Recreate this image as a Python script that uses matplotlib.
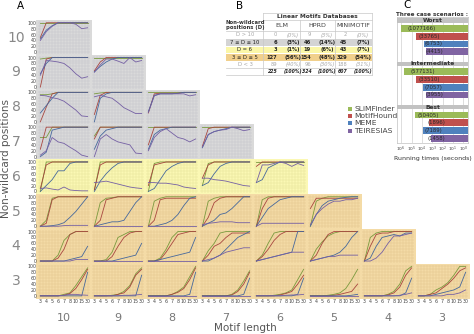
import numpy as np
import matplotlib
matplotlib.use("Agg")
import matplotlib.pyplot as plt
from matplotlib.patches import Rectangle
from matplotlib.ticker import NullLocator, MultipleLocator

W, H = 474, 334

methods = ["SLiMFinder", "MotifHound", "MEME", "TEIRESIAS"]
method_colors = ["#9bbb59", "#c0504d", "#4f81bd", "#8064a2"]
line_colors = ["#7a9a3e", "#a8463f", "#46689c", "#7560a4"]

# panel A: x categories inside every small plot, rows = D, columns = motif length
x_labels = ["3", "4", "5", "6", "7", "8", "10", "15", "30"]
d_values = [10, 9, 8, 7, 6, 5, 4, 3]
motif_lengths = [10, 9, 8, 7, 6, 5, 4, 3]

# one list per row and method, one inner list per column (motif length 10, 9, ...)
d10_slim = [[100, 100, 100, 100, 100, 100, 100, 100, 100]]
d10_motif = [[50, 100, 100, 100, 100, 100, 100, 100, 100]]
d10_meme = [[45, 75, 90, 100, 100, 100, 100, 100, 100]]
d10_teir = [[40, 70, 88, 100, 100, 100, 95, 80, 83]]

d9_slim = [[95, 98, 100, 100, 100, 100, 100, 100, 100],
           [100, 100, 100, 100, 100, 100, 100, 100, 100]]
d9_motif = [[0, 95, 100, 100, 100, 100, 100, 100, 100],
            [55, 85, 100, 100, 100, 100, 100, 100, 100]]
d9_meme = [[45, 80, 100, 100, 100, 100, 100, 100, 100],
           [52, 70, 85, 95, 100, 100, 100, 100, 100]]
d9_teir = [[40, 90, 88, 85, 80, 65, 45, 30, 35],
           [50, 75, 95, 95, 88, 80, 100, 85, 90]]

d8_slim = [[92, 92, 95, 100, 100, 100, 100, 100, 100],
           [95, 98, 100, 100, 100, 100, 100, 100, 100],
           [100, 100, 100, 100, 100, 100, 100, 100, 100]]
d8_motif = [[0, 50, 95, 100, 100, 100, 100, 100, 100],
            [25, 90, 100, 100, 100, 100, 100, 100, 100],
            [30, 95, 97, 97, 97, 97, 100, 100, 100]]
d8_meme = [[30, 55, 80, 100, 100, 100, 100, 100, 100],
           [0, 80, 95, 100, 100, 100, 100, 100, 100],
           [35, 90, 95, 95, 95, 97, 100, 100, 100]]
d8_teir = [[90, 88, 82, 78, 70, 55, 40, 20, 18],
           [85, 90, 85, 80, 65, 48, 38, 28, 28],
           [32, 88, 95, 95, 95, 95, 95, 88, 92]]

d7_slim = [[65, 65, 100, 100, 100, 100, 100, 100, 100],
           [70, 100, 100, 100, 100, 100, 100, 100, 100],
           [100, 100, 100, 100, 100, 100, 100, 100, 100],
           [100, 100, 100, 100, 100, 100, 100, 100, 100]]
d7_motif = [[25, 100, 100, 100, 100, 100, 100, 100, 100],
            [60, 100, 100, 100, 100, 100, 100, 100, 100],
            [40, 100, 100, 100, 100, 100, 100, 100, 100],
            [35, 95, 100, 100, 100, 100, 100, 100, 100]]
d7_meme = [[0, 15, 90, 95, 100, 100, 100, 100, 100],
           [25, 70, 90, 95, 100, 100, 100, 100, 100],
           [25, 75, 90, 95, 100, 100, 100, 100, 100],
           [30, 75, 85, 90, 95, 100, 100, 100, 100]]
d7_teir = [[5, 20, 65, 50, 45, 32, 20, 5, 0],
           [0, 60, 75, 60, 50, 45, 40, 12, 10],
           [20, 65, 85, 95, 80, 65, 60, 50, 60],
           [32, 75, 85, 90, 92, 100, 95, 88, 92]]

d6_slim = [[0, 100, 100, 100, 100, 100, 100, 100, 100],
           [5, 100, 100, 100, 100, 100, 100, 100, 100],
           [0, 95, 100, 100, 100, 100, 100, 100, 100],
           [20, 95, 100, 100, 100, 100, 100, 100, 100],
           [100, 100, 100, 100, 100, 100, 100, 100, 100]]
d6_motif = [[10, 90, 100, 100, 100, 100, 100, 100, 100],
            [5, 90, 100, 100, 100, 100, 100, 100, 100],
            [20, 90, 95, 100, 100, 100, 100, 100, 100],
            [45, 90, 100, 100, 100, 100, 100, 100, 100],
            [85, 100, 100, 100, 100, 100, 100, 100, 100]]
d6_meme = [[0, 20, 40, 70, 70, 95, 100, 100, 100],
           [0, 35, 60, 80, 95, 100, 100, 100, 100],
           [0, 10, 40, 70, 85, 95, 100, 100, 100],
           [20, 30, 60, 85, 95, 100, 100, 100, 100],
           [30, 40, 80, 90, 100, 100, 100, 100, 100]]
d6_teir = [[10, 12, 8, 5, 15, 5, 3, 2, 2],
           [30, 32, 35, 30, 25, 20, 15, 12, 10],
           [30, 30, 28, 28, 25, 22, 15, 12, 10],
           [45, 45, 40, 38, 35, 30, 25, 20, 18],
           [30, 90, 90, 95, 100, 95, 85, 95, 88]]

d5_slim = [[0, 20, 95, 100, 100, 100, 100, 100, 100],
           [0, 80, 95, 97, 100, 100, 100, 100, 100],
           [0, 85, 95, 100, 100, 100, 100, 100, 100],
           [0, 85, 95, 100, 100, 100, 100, 100, 100],
           [0, 90, 100, 100, 100, 100, 100, 100, 100],
           [0, 85, 95, 100, 100, 100, 100, 100, 100]]
d5_motif = [[0, 10, 90, 100, 100, 100, 100, 100, 100],
            [0, 20, 90, 95, 100, 100, 100, 100, 100],
            [0, 20, 90, 95, 95, 95, 95, 95, 95],
            [0, 30, 80, 95, 100, 100, 100, 100, 100],
            [0, 60, 95, 100, 100, 100, 100, 100, 100],
            [60, 95, 95, 95, 95, 95, 95, 95, 95]]
d5_meme = [[0, 0, 2, 5, 12, 30, 50, 75, 100],
           [0, 5, 10, 15, 15, 20, 50, 80, 100],
           [0, 0, 5, 10, 20, 40, 70, 95, 100],
           [0, 10, 20, 40, 45, 60, 80, 100, 100],
           [0, 30, 60, 75, 90, 95, 100, 100, 100],
           [0, 40, 70, 85, 90, 95, 98, 100, 100]]
d5_teir = [[0, 0, 0, 0, 2, 3, 3, 3, 3],
           [0, 0, 0, 0, 0, 0, 0, 0, 0],
           [0, 0, 0, 0, 0, 0, 0, 0, 0],
           [5, 10, 12, 15, 15, 15, 12, 12, 12],
           [0, 10, 10, 10, 10, 10, 10, 10, 10],
           [5, 40, 60, 75, 85, 85, 90, 90, 95]]

d4_slim = [[0, 0, 0, 20, 70, 90, 100, 100, 100],
           [0, 0, 5, 30, 80, 90, 100, 100, 100],
           [0, 0, 10, 40, 80, 100, 100, 100, 100],
           [0, 35, 60, 95, 100, 100, 100, 100, 100],
           [0, 20, 60, 95, 100, 100, 100, 100, 100],
           [0, 40, 65, 85, 95, 100, 100, 100, 100],
           [0, 80, 95, 100, 100, 100, 100, 100, 100]]
d4_motif = [[0, 0, 0, 10, 40, 90, 100, 100, 100],
            [0, 0, 0, 15, 50, 80, 95, 100, 100],
            [0, 0, 5, 30, 60, 90, 95, 100, 100],
            [0, 20, 50, 60, 80, 95, 95, 95, 95],
            [0, 15, 40, 70, 90, 100, 100, 100, 100],
            [0, 20, 60, 90, 100, 100, 100, 100, 100],
            [0, 50, 90, 95, 95, 100, 100, 100, 100]]
d4_meme = [[0, 0, 0, 0, 0, 5, 10, 15, 50],
           [0, 0, 0, 0, 5, 10, 15, 20, 60],
           [0, 0, 5, 10, 15, 20, 25, 30, 80],
           [0, 0, 10, 20, 40, 60, 80, 90, 100],
           [0, 5, 10, 15, 20, 25, 30, 100, 100],
           [0, 5, 10, 15, 20, 30, 50, 80, 100],
           [0, 10, 50, 80, 85, 90, 85, 95, 95]]
d4_teir = [[0, 0, 0, 0, 0, 0, 5, 5, 5],
           [0, 0, 0, 0, 0, 0, 0, 0, 0],
           [0, 0, 0, 0, 0, 0, 0, 0, 0],
           [0, 5, 10, 20, 30, 35, 40, 45, 45],
           [0, 5, 10, 15, 20, 25, 30, 30, 30],
           [0, 5, 10, 15, 15, 20, 20, 20, 20],
           [0, 0, 10, 30, 60, 85, 85, 90, 95]]

d3_slim = [[0, 0, 0, 0, 5, 10, 35, 65, 95],
           [0, 0, 0, 2, 5, 15, 35, 75, 95],
           [0, 0, 0, 0, 5, 15, 30, 65, 100],
           [0, 0, 0, 0, 0, 5, 20, 50, 85],
           [0, 0, 0, 2, 5, 10, 20, 55, 90],
           [0, 0, 0, 2, 5, 10, 25, 55, 90],
           [0, 0, 0, 0, 5, 15, 40, 85, 100],
           [0, 0, 5, 20, 30, 45, 70, 100, 100]]
d3_motif = [[0, 0, 0, 0, 2, 8, 25, 55, 90],
            [0, 0, 0, 0, 5, 10, 30, 70, 90],
            [0, 0, 0, 0, 5, 12, 25, 55, 95],
            [0, 0, 0, 0, 0, 3, 15, 40, 80],
            [0, 0, 0, 0, 3, 8, 15, 40, 70],
            [0, 0, 0, 0, 2, 5, 10, 15, 40],
            [0, 0, 0, 0, 3, 10, 30, 70, 95],
            [0, 0, 5, 10, 25, 40, 60, 85, 95]]
d3_meme = [[0, 0, 0, 0, 0, 0, 0, 0, 80],
           [0, 0, 0, 0, 0, 0, 0, 0, 70],
           [0, 0, 0, 0, 0, 0, 0, 5, 80],
           [0, 0, 0, 0, 0, 0, 0, 5, 60],
           [0, 0, 0, 0, 0, 0, 0, 5, 60],
           [0, 0, 0, 0, 0, 0, 0, 2, 5],
           [0, 0, 0, 0, 0, 0, 0, 10, 60],
           [0, 0, 0, 5, 10, 15, 20, 30, 80]]
d3_teir = [[0, 0, 0, 0, 2, 5, 5, 3, 2],
           [0, 0, 0, 0, 0, 2, 2, 3, 5],
           [0, 0, 0, 0, 0, 0, 0, 0, 0],
           [0, 0, 0, 0, 0, 0, 0, 0, 0],
           [0, 0, 0, 0, 0, 2, 3, 3, 5],
           [0, 0, 0, 0, 0, 0, 0, 0, 0],
           [0, 0, 0, 0, 0, 0, 2, 5, 10],
           [0, 0, 0, 0, 0, 5, 5, 10, 20]]

# panel B: motif counts per database
row_labels = ["D > 10", "7 \u2264 D \u2264 10", "D = 6", "3 \u2264 D \u2264 5", "D < 3"]
elm_counts = [0, 6, 3, 127, 89]
elm_pct = [0, 3, 1, 56, 40]
hprd_counts = [9, 46, 19, 154, 96]
hprd_pct = [3, 14, 6, 48, 30]
mm_counts = [2, 45, 43, 329, 188]
mm_pct = [0, 7, 7, 54, 31]
totals = [225, 324, 607]

# panel C: running times (seconds)
scenarios = ["Worst", "Intermediate", "Best"]
worst_times = [1077166, 33765, 6753, 4415]
intermediate_times = [577131, 33510, 7057, 3955]
best_times = [50405, 1896, 7189, 1458]

panel_data = {
    10: (d10_slim, d10_motif, d10_meme, d10_teir),
    9: (d9_slim, d9_motif, d9_meme, d9_teir),
    8: (d8_slim, d8_motif, d8_meme, d8_teir),
    7: (d7_slim, d7_motif, d7_meme, d7_teir),
    6: (d6_slim, d6_motif, d6_meme, d6_teir),
    5: (d5_slim, d5_motif, d5_meme, d5_teir),
    4: (d4_slim, d4_motif, d4_meme, d4_teir),
    3: (d3_slim, d3_motif, d3_meme, d3_teir),
}

fig = plt.figure(figsize=(W / 100, H / 100), dpi=100)
fig.patch.set_facecolor("white")

# overlay in pixel coordinates for bands, table, legend and labels
ov = fig.add_axes([0, 0, 1, 1], zorder=-1)
ov.set_xlim(0, W)
ov.set_ylim(H, 0)
ov.axis("off")


def band_style(d):
    if d >= 7:
        return "#dadada", "#c5c5cb"
    if d == 6:
        return "#fbf8b4", "#e6e29a"
    return "#f4dba6", "#e3c58e"


xs = np.arange(len(x_labels))
for r, d in enumerate(d_values):
    bg, gridc = band_style(d)
    top = 21 + r * 34.8
    ov.add_patch(Rectangle((36, top - 1), 56 + 54 * r, 35.2, color=bg, lw=0))
    ov.text(16, top + 16.5, str(d), fontsize=10, color="#888888", ha="center", va="center")
    for c in range(r + 1):
        left = 38 + c * 54
        ax = fig.add_axes([left / W, 1 - (top + 33) / H, 52 / W, 33 / H])
        ax.set_facecolor(bg)
        for k in range(4):
            ax.plot(xs, panel_data[d][k][c], color=line_colors[k], lw=0.6)
        ax.set_xlim(-0.4, 8.4)
        ax.set_ylim(-6, 106)
        ax.set_xticks(xs)
        ax.xaxis.set_minor_locator(MultipleLocator(0.5))
        ax.set_yticks(range(0, 101, 20))
        ax.yaxis.set_minor_locator(MultipleLocator(10))
        ax.grid(which="both", color=gridc, lw=0.35)
        ax.set_axisbelow(True)
        for s in ax.spines.values():
            s.set_visible(False)
        ax.tick_params(which="both", length=0, labelsize=3.4, pad=1, colors="#444444")
        if c == 0:
            ax.set_yticklabels([str(v) for v in range(0, 101, 20)])
        else:
            ax.set_yticklabels([])
        if d == 3:
            ax.set_xticklabels(x_labels)
        else:
            ax.set_xticklabels([])

for c, m in enumerate(motif_lengths):
    ov.text(64 + 54 * c, 318, str(m), fontsize=8, color="#777777", ha="center", va="center")
ov.text(245, 328, "Motif length", fontsize=7.5, color="#555555", ha="center", va="center")
ov.text(6, 158, "Non-wildcard positions", fontsize=7.5, color="#555555", rotation=90,
        ha="center", va="center")
ov.text(20, 6, "A", fontsize=7.5, ha="center", va="center")
ov.text(240, 6, "B", fontsize=7.5, ha="center", va="center")
ov.text(407, 5.5, "C", fontsize=7.5, ha="center", va="center")

# ---- panel B table ----
row_y = [35, 42.7, 49.8, 57.1, 64.2]
row_bg = [None, "#d4d4d4", "#fbf7a8", "#f1d08c", None]
line_c = "#c8c8c8"
for y, bgc in zip(row_y, row_bg):
    if bgc:
        ov.add_patch(Rectangle((226, y - 3.3), 146, 6.7, color=bgc, lw=0))
for (x0, y0, x1, y1) in [(263, 13, 372, 13), (263, 20, 372, 20), (226, 30.5, 372, 30.5),
                         (226, 67.8, 372, 67.8), (226, 75, 372, 75), (263, 13, 263, 75),
                         (372, 13, 372, 75), (300, 20, 300, 75), (335, 20, 335, 75)]:
    ov.plot([x0, x1], [y0, y1], color=line_c, lw=0.5)
ov.text(317, 16.5, "Linear Motifs Databases", fontsize=4.2, fontweight="bold",
        ha="center", va="center", color="#333333")
for xc, name in [(282, "ELM"), (317, "HPRD"), (353, "MINIMOTIF")]:
    ov.text(xc, 25.5, name, fontsize=4.6, ha="center", va="center", color="#444444")
ov.text(245, 25, "Non-wildcard\npositions (D)", fontsize=3.8, fontweight="bold",
        ha="center", va="center", color="#333333", linespacing=1.2)
cols = [(elm_counts, elm_pct, 277, 293), (hprd_counts, hprd_pct, 311, 327),
        (mm_counts, mm_pct, 347, 363)]
for i, (lab, y) in enumerate(zip(row_labels, row_y)):
    faint = i in (0, 4)
    tc = "#a8a8a8" if faint else "#222222"
    fw = "normal" if faint else "bold"
    ov.text(245, y, lab, fontsize=3.8, ha="center", va="center", color=tc)
    for counts, pct, xn, xp in cols:
        ov.text(xn, y, str(counts[i]), fontsize=3.7, ha="right", va="center", color=tc, fontweight=fw)
        ov.text(xp, y, "(%d%%)" % pct[i], fontsize=3.7, ha="center", va="center", color=tc,
                fontweight=fw, style="italic" if faint else "normal")
for tot, (_, _, xn, xp) in zip(totals, cols):
    ov.text(xn + 1, 71.5, str(tot), fontsize=3.3, ha="right", va="center", style="italic",
            fontweight="bold", color="#222222")
    ov.text(xp - 0.5, 71.5, "(100%)", fontsize=3.3, ha="center", va="center", style="italic",
            fontweight="bold", color="#222222")

# ---- legend ----
for i, (name, col) in enumerate(zip(methods, method_colors)):
    y = 109 + i * 7.2
    ov.plot([350], [y], marker="s", ms=2.6, color=col, mew=0)
    ov.text(354.5, y, name, fontsize=5.4, ha="left", va="center", color="#444444")

# ---- panel C ----
axc = fig.add_axes([397 / W, 1 - 143 / H, 71 / W, 126 / H])
right_edge = 10 ** -0.45
axc.set_xscale("log")
axc.set_xlim(10 ** 6.4, right_edge)
axc.set_ylim(143, 17)
for g, (name, times) in enumerate(zip(scenarios, [worst_times, intermediate_times, best_times])):
    hy = 20.5 + g * 43.3
    axc.axhspan(hy - 2.3, hy + 2.3, color="#c2c2c2", lw=0)
    axc.text(0.5, hy, name, transform=axc.get_yaxis_transform(), fontsize=4.3,
             ha="center", va="center", color="#333333", fontweight="bold")
    for i, t in enumerate(times):
        y = hy + 8 + i * 7.7
        axc.barh(y, t - right_edge, left=right_edge, height=6.8, color=method_colors[i], lw=0)
        axc.text(np.sqrt(t * 100), y, "(%d)" % t, fontsize=3.9, ha="center", va="center",
                 color="#2a2a2a")
axc.set_xticks(10.0 ** np.arange(7))
axc.xaxis.set_minor_locator(NullLocator())
axc.set_yticks([])
axc.grid(axis="x", color="#d0d0d0", lw=0.5)
axc.set_axisbelow(True)
for s in axc.spines.values():
    s.set_color("#c0c0c0")
    s.set_linewidth(0.5)
axc.tick_params(axis="x", length=0, labelsize=3.2, pad=1.5, colors="#444444")
axc.set_xlabel("Running times (seconds)", fontsize=4.5, labelpad=1, color="#333333")
ov.text(432, 14.2, "Three case scenarios :", fontsize=4.1, fontweight="bold",
        ha="center", va="center", color="#333333")

fig.savefig("out.png", dpi=100)
